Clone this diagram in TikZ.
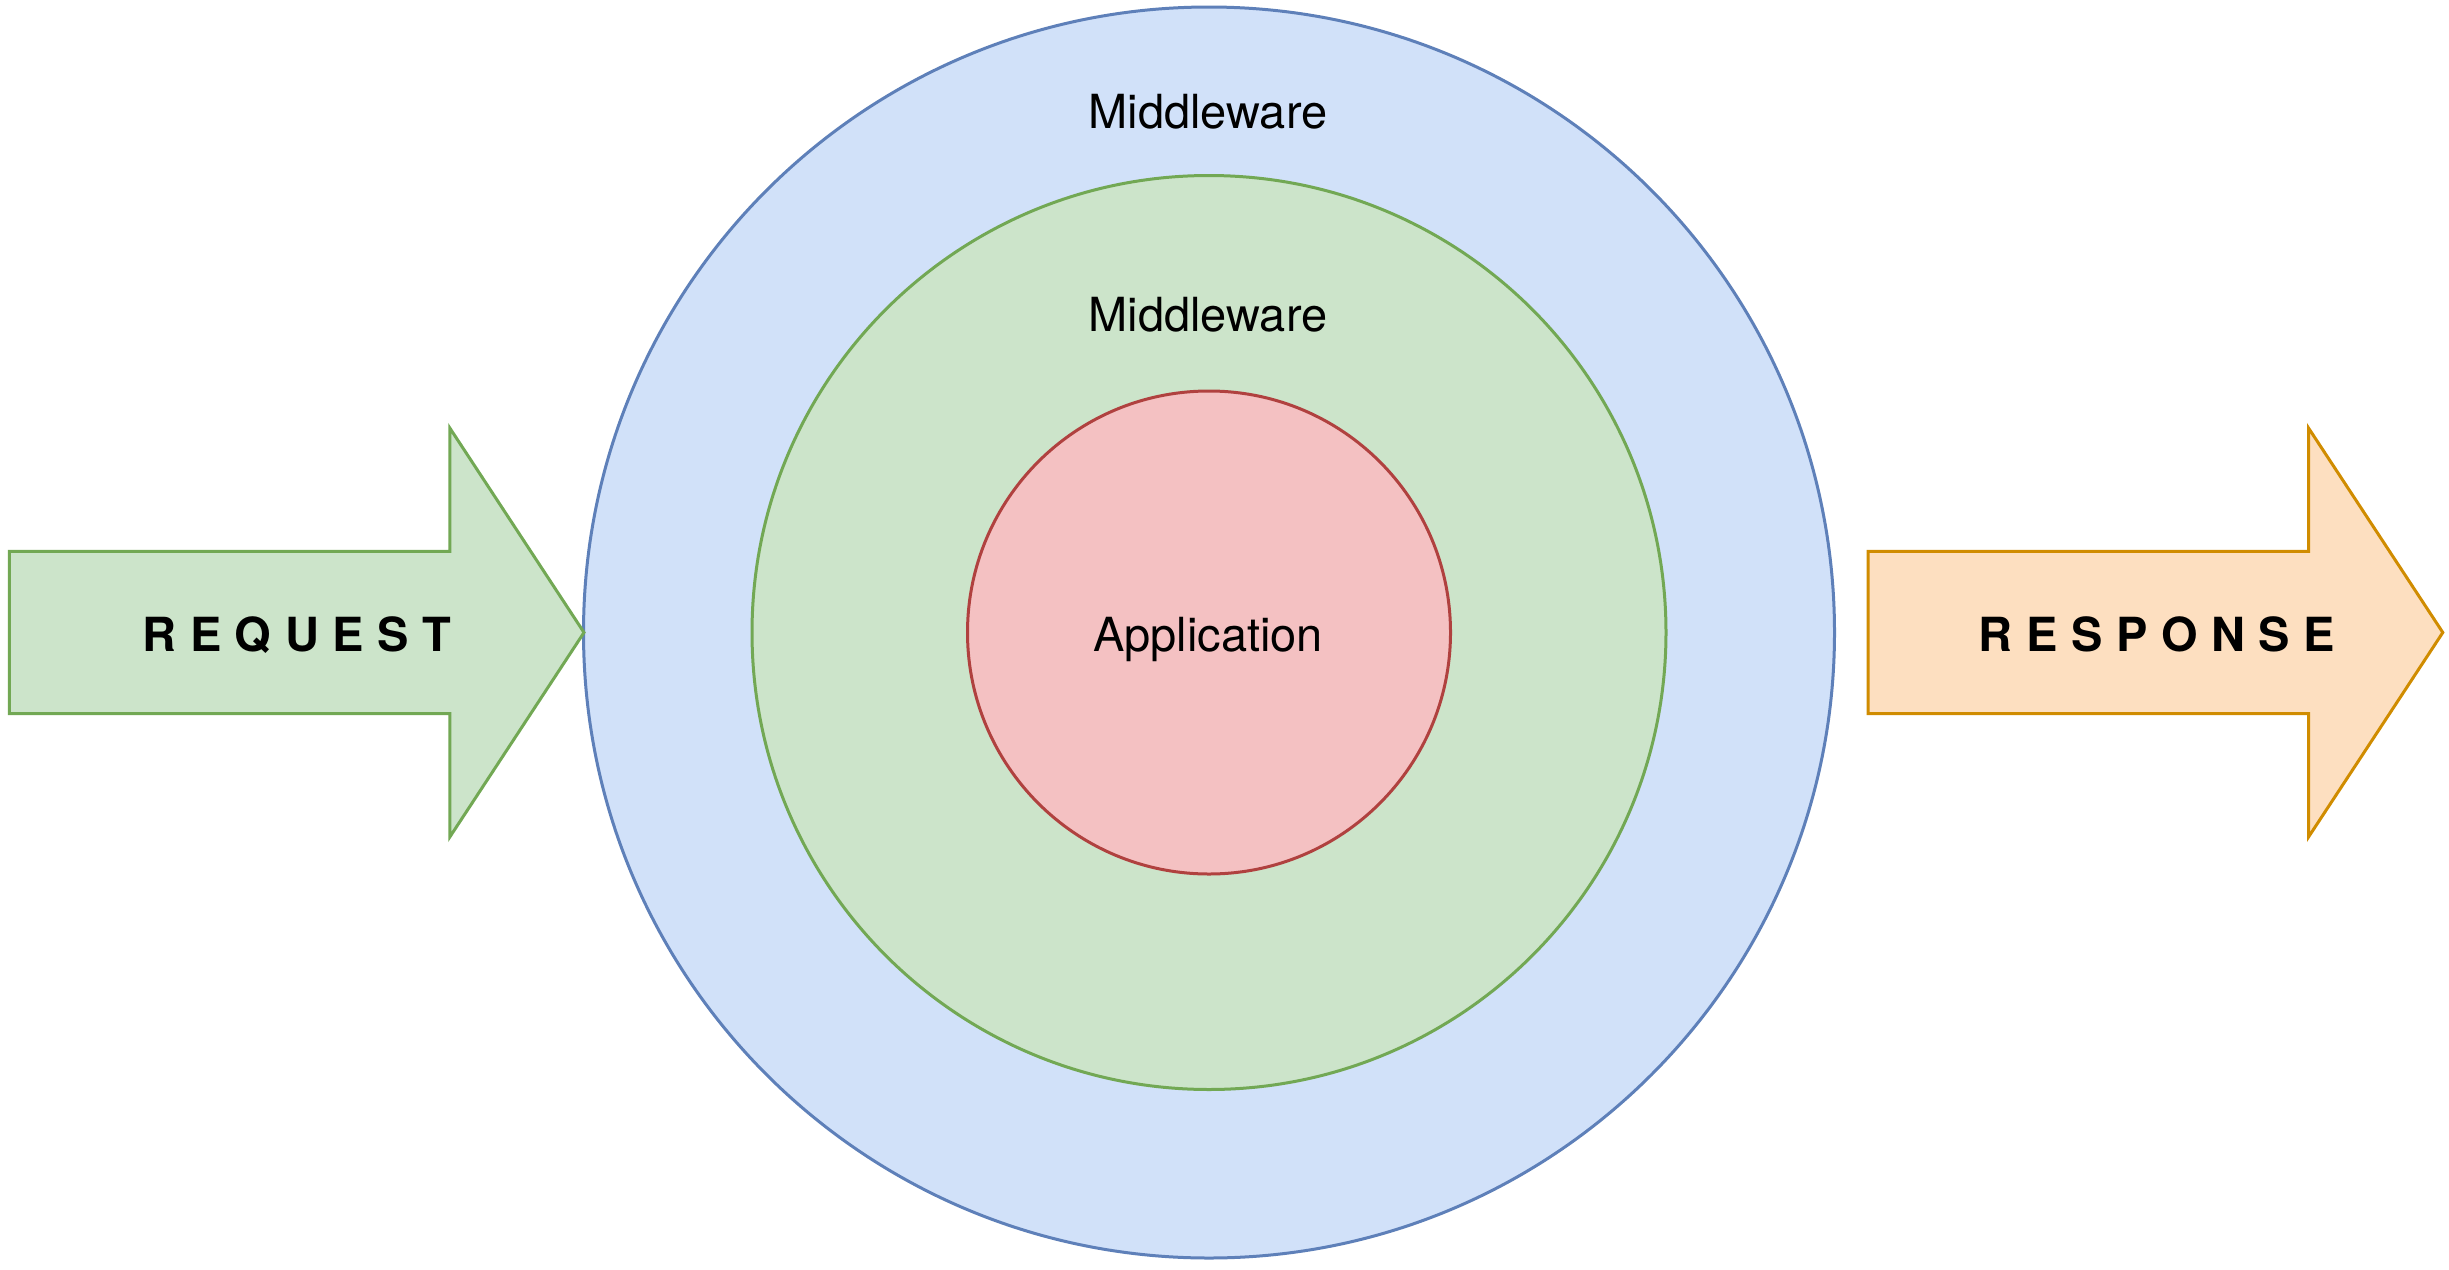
\documentclass[tikz,border=0pt]{standalone}
\usepackage{fontspec}
\setmainfont{TeX Gyre Heros}
\newfontfamily\spacedfont[LetterSpace=29]{TeX Gyre Heros}
\definecolor{bluefill}{HTML}{D1E1F9}
\definecolor{bluestroke}{HTML}{5E80B9}
\definecolor{greenfill}{HTML}{CCE4CA}
\definecolor{greenstroke}{HTML}{72A854}
\definecolor{redfill}{HTML}{F4C1C2}
\definecolor{redstroke}{HTML}{B0413F}
\definecolor{orangefill}{HTML}{FDDFC0}
\definecolor{orangestroke}{HTML}{D08C00}
\begin{document}
\begin{tikzpicture}[x=1pt,y=-1pt,
  ring/.style={circle, line width=3pt, inner sep=0pt, outer sep=0pt},
  lbl/.style={anchor=base, font=\fontsize{47}{56}\selectfont, text=black, inner sep=0pt},
  arrowlbl/.style={anchor=base, font=\fontsize{47}{56}\selectfont\spacedfont\bfseries, text=black, inner sep=0pt},
  bigarrow/.style={line width=3pt, line join=miter}
]
\useasboundingbox (0,0) rectangle (2449,1269);
\fill[white] (0,0) rectangle (2449,1269);

\node[ring, draw=bluestroke, fill=bluefill, minimum size=1251pt] (outer) at (1209,632.5) {};
\node[ring, draw=greenstroke, fill=greenfill, minimum size=914pt] (middle) at (1209,632.5) {};
\node[ring, draw=redstroke, fill=redfill, minimum size=483pt] (app) at (1209,632.5) {};

\node[lbl] (mwouter) at (1208,128.3) {Middleware};
\node[lbl] (mwinner) at (1208,331.7) {Middleware};
\node[lbl] (applbl) at (1208,651.7) {Application};

\draw[bigarrow, draw=greenstroke, fill=greenfill]
  (9.4,551.3) -- (449.8,551.3) -- (449.8,428) -- (584,632.5) -- (449.8,837)
  -- (449.8,713.7) -- (9.4,713.7) -- cycle;
\draw[bigarrow, draw=orangestroke, fill=orangefill]
  (1868,551.3) -- (2308.5,551.3) -- (2308.5,428) -- (2442.8,632.5) -- (2308.5,837)
  -- (2308.5,713.7) -- (1868,713.7) -- cycle;

\node[arrowlbl] (req) at (290,651.5) {REQUEST\kern-0.29em};
\node[arrowlbl] (resp) at (2150,651.5) {RESPONSE\kern-0.29em};
\end{tikzpicture}
\end{document}
